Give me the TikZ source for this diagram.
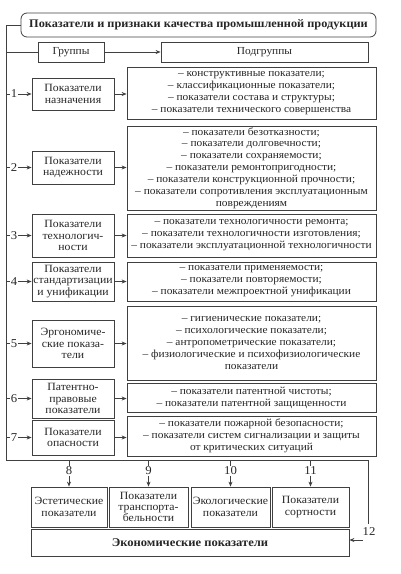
\documentclass[tikz,border=0pt]{standalone}
\usepackage{fontspec}
\setmainfont{Liberation Serif}[FakeStretch=1.06]
\usetikzlibrary{arrows.meta}
\begin{document}
\begin{tikzpicture}[x=1pt,y=-1pt,
  every node/.style={text=black!85},
  line/.style={draw=black!75,line width=0.8pt},
  arr/.style={line,-{Stealth[length=5pt,width=4pt]}},
  box/.style={line,inner sep=0pt,align=center,font=\fontsize{10.75}{11.9}\selectfont},
  grp/.style={box,minimum width=82,font=\fontsize{11.1}{11.3}\selectfont},
  sub/.style={box,minimum width=249},
  bot/.style={box,minimum height=40,font=\fontsize{11.1}{11.3}\selectfont},
  num/.style={inner sep=0.5pt,font=\fontsize{12}{12}\selectfont}]
\useasboundingbox (0,0) rectangle (401,574);
% title
\node[line,rounded corners=6pt,minimum width=355,minimum height=24,inner sep=0pt,font=\bfseries\fontsize{11.6}{14}\selectfont] (t) at (198.5,25) {Показатели и признаки качества промышленной продукции};
% header
\node[box,minimum width=66,minimum height=20] (hg) at (71,52) {Группы};
\node[box,minimum width=207,minimum height=20] (hs) at (264.5,52) {Подгруппы};
% spine
\coordinate (c0) at (6,25);
\coordinate (cb) at (6,460);
\coordinate (cr) at (368,460);
\coordinate (ce) at (368,524);
\draw[line] (t.west) -- (c0) -- (cb) -- (cr) -- (ce);
\coordinate (ch) at (6,52);
\draw[line] (ch) -- (hg.west);
\draw[arr] (hg.east) -- (hs.west);
% rows
\node[grp,minimum height=32] (g1) at (73,94) {Показатели\\назначения};
\node[sub,minimum height=52] (s1) at (251.5,93) {– конструктивные показатели;\\– классификационные показатели;\\– показатели состава и структуры;\\– показатели технического совершенства};
\node[grp,minimum height=33] (g2) at (73,167.5) {Показатели\\надежности};
\node[sub,minimum height=84] (s2) at (251.5,168) {– показатели безотказности;\\– показатели долговечности;\\– показатели сохраняемости;\\– показатели ремонтопригодности;\\– показатели конструкционной прочности;\\– показатели сопротивления эксплуатационным\\повреждениям};
\node[grp,minimum height=43] (g3) at (73,235.5) {Показатели\\технологич-\\ности};
\node[sub,minimum height=43] (s3) at (251.5,235.5) {– показатели технологичности ремонта;\\– показатели технологичности изготовления;\\– показатели эксплуатационной технологичности};
\node[grp,minimum height=39] (g4) at (73,281.5) {Показатели\\стандартизации\\и унификации};
\node[sub,minimum height=39] (s4) at (251.5,281.5) {– показатели применяемости;\\– показатели повторяемости;\\– показатели межпроектной унификации};
\node[grp,minimum height=47] (g5) at (73,343.5) {Эргономиче-\\ские показа-\\тели};
\node[sub,minimum height=74] (s5) at (251.5,343) {– гигиенические показатели;\\– психологические показатели;\\– антропометрические показатели;\\– физиологические и психофизиологические\\показатели};
\node[grp,minimum height=39] (g6) at (73,398.5) {Патентно-\\правовые\\показатели};
\node[sub,minimum height=29] (s6) at (251.5,397.5) {– показатели патентной чистоты;\\– показатели патентной защищенности};
\node[grp,minimum height=35] (g7) at (73,437.5) {Показатели\\опасности};
\node[sub,minimum height=40] (s7) at (251.5,436) {– показатели пожарной безопасности;\\– показатели систем сигнализации и защиты\\от критических ситуаций};
\foreach \i/\y in {1/94,2/167.5,3/235.5,4/281.5,5/343.5,6/398.5,7/437.5}{
  \coordinate (sp\i) at (6,\y);
  \node[num] (n\i) at (14,\y) {\i};
  \draw[line] (sp\i) -- (n\i.west);
  \draw[arr] (n\i.east) -- (g\i.west);
  \draw[arr] (g\i.east) -- (g\i.east -| s\i.west);
}
% bottom boxes
\node[bot,minimum width=76] (b8) at (69,507) {Эстетические\\показатели};
\node[bot,minimum width=79] (b9) at (148.5,507) {Показатели\\транспорта-\\бельности};
\node[bot,minimum width=79] (b10) at (230.5,507) {Экологические\\показатели};
\node[bot,minimum width=77] (b11) at (310.5,507) {Показатели\\сортности};
\node[box,minimum width=318,minimum height=27,font=\bfseries\fontsize{11.85}{14}\selectfont] (ec) at (190,542.5) {Экономические показатели};
\foreach \i in {8,9,10,11}{
  \coordinate (tp\i) at (b\i.center |- cb);
  \node[num] (n\i) at (b\i.center |- 0,471) {\i};
  \draw[line] (tp\i) -- (n\i.north);
  \draw[arr] (n\i.south) -- (b\i.north);
}
\node[num] (n12) at (369,532) {12};
\coordinate (a12) at (363,540);
\draw[arr] (a12) -- (a12 -| ec.east);
\end{tikzpicture}
\end{document}
